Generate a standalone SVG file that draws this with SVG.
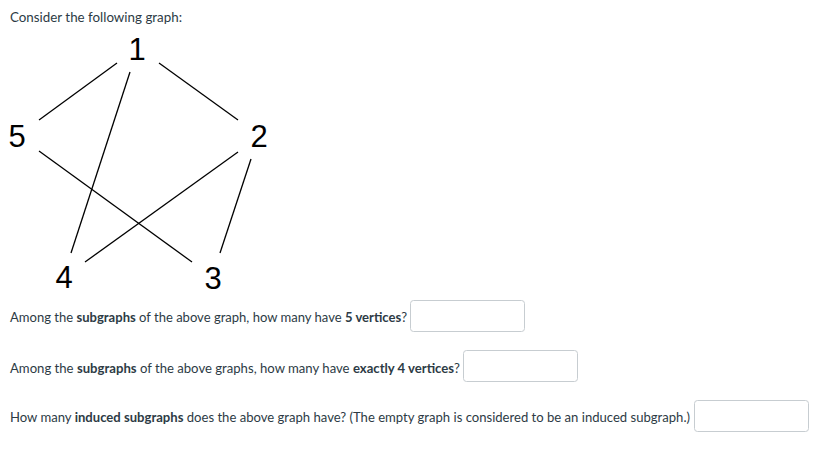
<svg xmlns="http://www.w3.org/2000/svg" width="831" height="460" viewBox="0 0 831 460">
<style>
.q{font-family:Lato,"Liberation Sans",sans-serif;font-size:13px;fill:#2d3b45}
.b{font-weight:bold}
.lbl{font-family:"Liberation Sans",Arial,sans-serif;font-size:31px;fill:#000;text-anchor:middle}
.e{stroke:#000;stroke-width:1.3;fill:none}
.box{fill:#fff;stroke:#c7cdd1;stroke-width:1}
</style>
<rect width="831" height="460" fill="#fff"/>
<text class="q" x="10" y="22" textLength="172" lengthAdjust="spacingAndGlyphs">Consider the following graph:</text>
<g id="edges">
<line class="e" x1="117" y1="63" x2="39" y2="120"/>
<line class="e" x1="130" y1="72" x2="71" y2="253"/>
<line class="e" x1="159" y1="63" x2="238" y2="120"/>
<line class="e" x1="39" y1="151" x2="192" y2="262"/>
<line class="e" x1="238" y1="152" x2="85" y2="262"/>
<line class="e" x1="251" y1="159" x2="220" y2="253"/>
</g>
<g id="n1"><text class="lbl" x="137" y="60">1</text></g>
<g id="n2"><text class="lbl" x="259" y="147">2</text></g>
<g id="n3"><text class="lbl" x="213" y="289">3</text></g>
<g id="n4"><text class="lbl" x="64" y="288">4</text></g>
<g id="n5"><text class="lbl" x="17" y="147">5</text></g>
<text class="q" x="10" y="322" textLength="397" lengthAdjust="spacingAndGlyphs">Among the <tspan class="b">subgraphs</tspan> of the above graph, how many have <tspan class="b">5 vertices</tspan>?</text>
<rect class="box" x="410.5" y="300.5" width="114" height="31" rx="3"/>
<text class="q" x="10" y="373" textLength="450" lengthAdjust="spacingAndGlyphs">Among the <tspan class="b">subgraphs</tspan> of the above graphs, how many have <tspan class="b">exactly 4 vertices</tspan>?</text>
<rect class="box" x="463.5" y="350.5" width="114" height="31" rx="3"/>
<text class="q" x="10" y="422" textLength="680" lengthAdjust="spacingAndGlyphs">How many <tspan class="b">induced subgraphs</tspan> does the above graph have? (The empty graph is considered to be an induced subgraph.)</text>
<rect class="box" x="694.5" y="400.5" width="114" height="31" rx="3"/>
</svg>
